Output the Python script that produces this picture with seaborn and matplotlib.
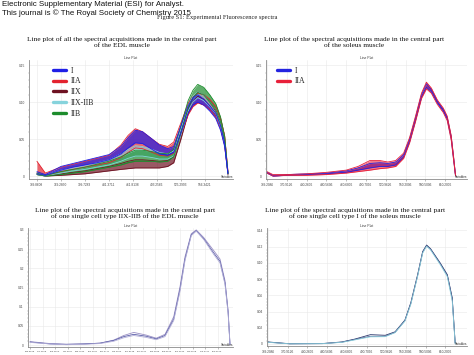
import matplotlib
matplotlib.use("Agg")
import matplotlib.pyplot as plt
from matplotlib.lines import Line2D
from matplotlib.ticker import AutoMinorLocator
import seaborn as sns
import pandas as pd

# ---------------- data ----------------
# Panel A: EDL muscle, all acquisitions (x in variable-tick units)
edl_x = [0, 0.35, 1, 1.5, 2, 2.5, 3, 3.5, 3.8, 4.1, 4.4, 4.8, 5.1, 5.45, 5.7, 6.0,
         6.3, 6.5, 6.7, 6.95, 7.2, 7.45, 7.65, 7.82, 7.96]
edl_classes = ["I", "IIA", "IIX", "IIX-IIB", "IIB"]
edl_I_hi = [0.006, 0.002, 0.013, 0.017, 0.021, 0.025, 0.029, 0.040, 0.052, 0.062, 0.060, 0.050, 0.042,
            0.037, 0.040, 0.068, 0.095, 0.106, 0.110, 0.104, 0.095, 0.085, 0.068, 0.045, 0.004]
edl_I_lo = [0.003, 0.001, 0.008, 0.012, 0.015, 0.018, 0.022, 0.030, 0.038, 0.045, 0.044, 0.036, 0.030,
            0.028, 0.032, 0.058, 0.085, 0.096, 0.100, 0.096, 0.088, 0.078, 0.062, 0.040, 0.003]
edl_IIA_hi = [0.020, 0.004, 0.012, 0.016, 0.020, 0.024, 0.028, 0.042, 0.055, 0.064, 0.060, 0.050, 0.043,
              0.040, 0.046, 0.072, 0.098, 0.108, 0.112, 0.110, 0.104, 0.094, 0.078, 0.055, 0.006]
edl_IIA_lo = [0.004, 0.001, 0.006, 0.009, 0.012, 0.015, 0.018, 0.025, 0.032, 0.038, 0.037, 0.032, 0.028,
              0.027, 0.031, 0.056, 0.083, 0.094, 0.099, 0.096, 0.090, 0.080, 0.064, 0.042, 0.003]
edl_IIX_hi = [0.004, 0.001, 0.003, 0.005, 0.007, 0.010, 0.013, 0.017, 0.020, 0.022, 0.022, 0.021, 0.020,
              0.021, 0.026, 0.058, 0.092, 0.106, 0.114, 0.110, 0.100, 0.088, 0.070, 0.046, 0.003]
edl_IIX_lo = [0.002, 0.000, 0.001, 0.002, 0.003, 0.005, 0.007, 0.009, 0.010, 0.011, 0.011, 0.011, 0.011,
              0.013, 0.018, 0.050, 0.085, 0.100, 0.108, 0.104, 0.095, 0.083, 0.066, 0.042, 0.002]
edl_IIXIIB_hi = [0.004, 0.001, 0.008, 0.011, 0.014, 0.018, 0.022, 0.030, 0.036, 0.041, 0.040, 0.036, 0.032,
                 0.030, 0.034, 0.064, 0.095, 0.108, 0.114, 0.110, 0.100, 0.090, 0.072, 0.048, 0.004]
edl_IIXIIB_lo = [0.002, 0.000, 0.004, 0.007, 0.009, 0.012, 0.015, 0.020, 0.024, 0.027, 0.027, 0.025, 0.023,
                 0.023, 0.027, 0.056, 0.088, 0.100, 0.106, 0.102, 0.094, 0.084, 0.067, 0.044, 0.003]
edl_IIB_hi = [0.004, 0.001, 0.006, 0.009, 0.012, 0.016, 0.020, 0.026, 0.031, 0.035, 0.035, 0.033, 0.031,
              0.030, 0.036, 0.068, 0.102, 0.116, 0.124, 0.120, 0.110, 0.098, 0.080, 0.054, 0.004]
edl_IIB_lo = [0.002, 0.000, 0.002, 0.004, 0.006, 0.009, 0.012, 0.015, 0.018, 0.020, 0.020, 0.020, 0.019,
              0.020, 0.026, 0.058, 0.092, 0.106, 0.113, 0.110, 0.100, 0.090, 0.073, 0.048, 0.003]
edl_xticklabels = ["339.8608", "369.2850", "399.7283", "431.3711", "461.8138",
                   "493.2566", "525.2993", "556.3421"]
edl_yticks = [0, 0.05, 0.10, 0.15]

# Panel B: soleus muscle, all acquisitions
sol_x = [0, 0.3, 1, 2, 3, 4, 4.6, 5.2, 5.7, 6.1, 6.5, 6.9, 7.2, 7.5, 7.8, 8.05, 8.3, 8.6, 8.9, 9.1,
         9.3, 9.42, 9.52]
sol_classes = ["I", "IIA"]
sol_IIA_hi = [0.006, 0.002, 0.002, 0.003, 0.005, 0.008, 0.013, 0.021, 0.021, 0.019, 0.021, 0.031, 0.052,
              0.081, 0.112, 0.127, 0.119, 0.103, 0.092, 0.081, 0.055, 0.027, 0.001]
sol_IIA_lo = [0.004, 0.000, 0.001, 0.001, 0.002, 0.004, 0.006, 0.008, 0.010, 0.011, 0.013, 0.024, 0.045,
              0.074, 0.105, 0.118, 0.112, 0.097, 0.086, 0.075, 0.049, 0.022, 0.000]
sol_I_hi = [0.005, 0.001, 0.002, 0.003, 0.004, 0.007, 0.011, 0.017, 0.018, 0.017, 0.019, 0.029, 0.050,
            0.079, 0.110, 0.125, 0.117, 0.101, 0.090, 0.079, 0.053, 0.025, 0.001]
sol_I_lo = [0.004, 0.000, 0.001, 0.002, 0.003, 0.005, 0.008, 0.011, 0.013, 0.013, 0.015, 0.026, 0.047,
            0.076, 0.107, 0.120, 0.114, 0.099, 0.088, 0.077, 0.051, 0.023, 0.000]
sol_xticklabels = ["339.2086", "370.9126", "400.2606", "430.5606", "460.6806",
                   "490.7096", "520.9626", "550.2006", "580.5006", "610.2006"]

# Panel C: single cell IIX-IIB of EDL
cellC_x = [0, 1.6, 2.9, 4.3, 5.6, 6.7, 7.5, 8.3, 9.3, 10.1, 10.8, 11.5, 12.0, 12.4, 12.9, 13.3, 13.9,
           14.7, 15.2, 15.6, 15.85, 16.0]
cellC_1 = [0.009, 0.004, 0.002, 0.003, 0.005, 0.013, 0.025, 0.033, 0.026, 0.018, 0.028, 0.074, 0.152,
           0.230, 0.290, 0.300, 0.280, 0.246, 0.224, 0.168, 0.090, 0.002]
cellC_2 = [0.008, 0.003, 0.002, 0.003, 0.005, 0.012, 0.022, 0.028, 0.023, 0.016, 0.025, 0.068, 0.145,
           0.224, 0.287, 0.298, 0.277, 0.240, 0.218, 0.162, 0.085, 0.001]
cellC_3 = [0.007, 0.003, 0.001, 0.002, 0.004, 0.010, 0.019, 0.025, 0.020, 0.014, 0.022, 0.064, 0.140,
           0.220, 0.285, 0.297, 0.275, 0.236, 0.214, 0.158, 0.082, 0.001]
cellC_xticklabels = ["339.8608", "354.2658", "369.2850", "384.3011", "399.7283", "415.2011",
                     "431.3711", "446.2012", "461.8138", "477.5021", "493.2566", "509.0102",
                     "525.2993", "540.5058", "556.3421", "572.0020"]
cellC_yticks = [0, 0.05, 0.10, 0.15, 0.20, 0.25, 0.30]

# Panel D: single cell type I of soleus
cellD_x = [0, 1.1, 2.75, 3.75, 4.4, 5.2, 5.95, 6.45, 6.95, 7.25, 7.6, 7.85, 8.05, 8.25, 8.75, 9.1,
           9.35, 9.5]
cellD_1 = [0.0025, 0.0003, 0.0005, 0.0025, 0.0060, 0.0115, 0.0107, 0.0150, 0.0295, 0.051, 0.086, 0.114,
           0.1220, 0.1175, 0.0995, 0.0855, 0.057, 0.001]
cellD_2 = [0.0022, 0.0002, 0.0004, 0.0022, 0.0055, 0.0095, 0.0095, 0.0143, 0.0288, 0.050, 0.085, 0.113,
           0.1212, 0.1168, 0.0988, 0.0848, 0.056, 0.001]
cellD_3 = [0.0020, 0.0002, 0.0004, 0.0020, 0.0050, 0.0088, 0.0090, 0.0140, 0.0282, 0.049, 0.084, 0.112,
           0.1205, 0.1160, 0.0975, 0.0830, 0.053, 0.000]
cellD_yticks = [0, 0.02, 0.04, 0.06, 0.08, 0.10, 0.12, 0.14]

# ---------------- style ----------------
sns.set_theme(style="white")
plt.rcParams["font.family"] = ["Liberation Serif", "DejaVu Serif"]
SANS = ["Liberation Sans", "DejaVu Sans"]

edl_colors = {"I": "#1f1fe6", "IIA": "#e3232f", "IIX": "#6e1222",
              "IIX-IIB": "#86d3dc", "IIB": "#1c8c2c"}
sol_colors = {"I": "#2424e0", "IIA": "#e8203a"}

W, H = 474, 355
fig = plt.figure(figsize=(W / 100, H / 100), dpi=100)


def px_axes(x0, y0, x1, y1):
    return fig.add_axes([x0 / W, 1 - y1 / H, (x1 - x0) / W, (y1 - y0) / H])


def style_axes(ax, xticklabels, yticks, xlim, ylim, ytickfmt, xfs=2.3):
    ax.set_xlim(*xlim)
    ax.set_ylim(*ylim)
    ax.set_xticks(range(len(xticklabels)))
    ax.set_xticklabels(xticklabels, fontsize=xfs, family=SANS, color="#444444")
    ax.set_yticks(yticks)
    ax.set_yticklabels([ytickfmt(v) for v in yticks], fontsize=2.3, family=SANS, color="#444444")
    ax.yaxis.set_minor_locator(AutoMinorLocator(5))
    ax.tick_params(axis="both", which="major", length=1.5, width=0.4, pad=1.5, color="#888888")
    ax.tick_params(axis="y", which="minor", length=0.8, width=0.3, color="#999999", left=True)
    ax.tick_params(axis="x", bottom=True)
    ax.grid(True, color="#e8e8e8", linewidth=0.4)
    for s in ["top", "right"]:
        ax.spines[s].set_visible(False)
    for s in ["left", "bottom"]:
        ax.spines[s].set_color("#8a8a8a")
        ax.spines[s].set_linewidth(0.6)
    ax.set_xlabel("")
    ax.set_ylabel("")
    ax.set_title("Line Plot", fontsize=2.4, family=SANS, pad=1.0, color="#333333")
    ax.text(1.0, 0.0, "Variables", transform=ax.transAxes, ha="right", va="bottom",
            fontsize=2.2, family=SANS, color="#333333")


def band(ax, x, lo, hi, color, alpha):
    df = pd.DataFrame({"x": list(x) * 2, "y": list(lo) + list(hi),
                       "curve": ["lo"] * len(x) + ["hi"] * len(x)})
    ax.fill_between(x, lo, hi, color=color, alpha=alpha, linewidth=0)
    sns.lineplot(data=df, x="x", y="y", units="curve", estimator=None, color=color,
                 linewidth=0.6, ax=ax, legend=False)


fmt2 = lambda v: "0" if v == 0 else f"{v:.2f}"

# ---- Panel A ----
axA = px_axes(29, 60, 233, 179)
edl_data = {"I": (edl_I_lo, edl_I_hi), "IIA": (edl_IIA_lo, edl_IIA_hi),
            "IIX": (edl_IIX_lo, edl_IIX_hi), "IIX-IIB": (edl_IIXIIB_lo, edl_IIXIIB_hi),
            "IIB": (edl_IIB_lo, edl_IIB_hi)}
for cls in ["IIX", "IIA", "IIX-IIB", "IIB", "I"]:
    lo, hi = edl_data[cls]
    band(axA, edl_x, lo, hi, edl_colors[cls], 0.7)
style_axes(axA, edl_xticklabels, edl_yticks, (-0.33, 8.17), (-0.004, 0.157), fmt2)
handles = [Line2D([], [], color=edl_colors[c], lw=2.4) for c in edl_classes]
axA.legend(handles, edl_classes, loc="upper left", bbox_to_anchor=(0.1, 0.97),
           frameon=False, fontsize=5.6, handlelength=1.7, handletextpad=0.6,
           labelspacing=0.35, borderaxespad=0)

# ---- Panel B ----
axB = px_axes(266, 60, 467, 179)
band(axB, sol_x, sol_I_lo, sol_I_hi, sol_colors["I"], 0.85)
band(axB, sol_x, sol_IIA_lo, sol_IIA_hi, sol_colors["IIA"], 0.6)
style_axes(axB, sol_xticklabels, edl_yticks, (-0.05, 10.1), (-0.004, 0.157), fmt2)
handles = [Line2D([], [], color=sol_colors[c], lw=2.4) for c in sol_classes]
axB.legend(handles, sol_classes, loc="upper left", bbox_to_anchor=(0.04, 0.97),
           frameon=False, fontsize=5.6, handlelength=1.7, handletextpad=0.6,
           labelspacing=0.35, borderaxespad=0)

# ---- Panel C ----
axC = px_axes(28, 228, 233, 347)
dfC = pd.DataFrame({"x": cellC_x * 3, "y": cellC_1 + cellC_2 + cellC_3,
                    "acq": ["a"] * len(cellC_x) + ["b"] * len(cellC_x) + ["c"] * len(cellC_x)})
sns.lineplot(data=dfC, x="x", y="y", hue="acq", palette=["#9a8fc4", "#5a5ea8", "#b4b0d8"],
             estimator=None, linewidth=0.6, ax=axC, legend=False)
style_axes(axC, cellC_xticklabels, cellC_yticks, (-0.16, 16.24), (-0.005, 0.305),
           lambda v: "0" if v == 0 else f"{v:g}", xfs=1.7)

# ---- Panel D ----
axD = px_axes(267, 228, 467, 346)
dfD = pd.DataFrame({"x": cellD_x * 3, "y": cellD_1 + cellD_2 + cellD_3,
                    "acq": ["a"] * len(cellD_x) + ["b"] * len(cellD_x) + ["c"] * len(cellD_x)})
sns.lineplot(data=dfD, x="x", y="y", hue="acq", palette=["#2e3a6e", "#4a5a8e", "#8ccfdc"],
             estimator=None, linewidth=0.6, ax=axD, legend=False)
style_axes(axD, sol_xticklabels, cellD_yticks, (-0.05, 10.1), (-0.0025, 0.143), fmt2)

# ---------------- texts ----------------
fig.text(2 / W, 1 - 1 / H, "Electronic Supplementary Material (ESI) for Analyst.",
         ha="left", va="top", fontsize=5.7, family=SANS, color="#111111")
fig.text(2 / W, 1 - 9 / H, "This journal is \u00a9 The Royal Society of Chemistry 2015",
         ha="left", va="top", fontsize=5.7, family=SANS, color="#111111")
fig.text(217 / W, 1 - 15.5 / H, "Figure S1: Experimental Fluorescence spectra",
         ha="center", va="top", fontsize=4.7, color="#222222")

title_kw = dict(ha="center", va="top", fontsize=5.3, linespacing=1.2, color="#111111")
fig.text(122 / W, 1 - 36.5 / H,
         "Line plot of all the spectral acquisitions made in the central part\nof the EDL muscle",
         **title_kw)
fig.text(354 / W, 1 - 36.5 / H,
         "Line plot of the spectral acquisitions made in the central part\nof the soleus muscle",
         **title_kw)
fig.text(125 / W, 1 - 207 / H,
         "Line plot of the spectral acquisitions made in the central part\n"
         "of one single cell type IIX-IIB of the EDL muscle", **title_kw)
fig.text(355 / W, 1 - 207 / H,
         "Line plot of the spectral acquisitions made in the central part\n"
         "of one single cell type I of the soleus muscle", **title_kw)

fig.savefig("out.png", dpi=100)
